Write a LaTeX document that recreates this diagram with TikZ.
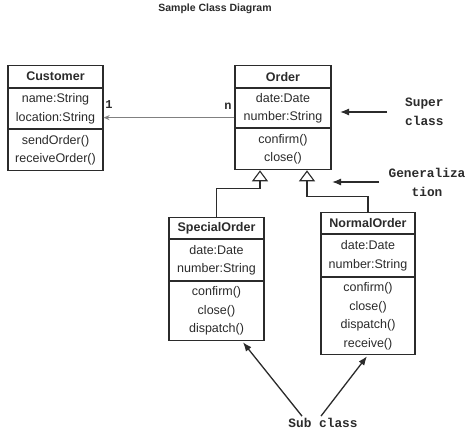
\documentclass[tikz,border=0pt]{standalone}
\usepackage{fontspec}
\setmainfont{Liberation Sans}
\newfontfamily\monofont{Liberation Mono}
\usetikzlibrary{arrows.meta}
\definecolor{ink}{HTML}{2B2B2B}
\definecolor{assocgray}{HTML}{808080}
\tikzset{
  sect/.style={draw=ink, line width=1.1pt, minimum width=95pt, inner sep=0pt,
    align=center, text=ink, anchor=north, font=\fontsize{12.5}{18.5}\selectfont},
  hdr/.style={sect, minimum height=22pt, font=\bfseries\fontsize{12.5}{18.5}\selectfont},
  note/.style={text=ink, align=center, inner sep=0pt, font=\monofont\bfseries\fontsize{12.8}{19}\selectfont},
  mult/.style={text=ink, inner sep=0pt, font=\monofont\bfseries\fontsize{12}{14}\selectfont},
  assoc/.style={draw=assocgray, line width=1.1pt, -{Stealth[length=6pt,width=5pt]}},
  gen/.style={draw=ink, line width=1.1pt, -{Triangle[open,length=11pt,width=16pt,fill=white]}},
  pointer/.style={draw=ink, line width=1.3pt, -{Latex[length=9pt,width=7pt]}}
}
\begin{document}
\begin{tikzpicture}[x=1pt,y=-1pt]
\useasboundingbox[fill=white] (0,0) rectangle (474,438);
% title
\node[text=ink, font=\bfseries\fontsize{10.5}{12}\selectfont] (title) at (215,9) {Sample Class Diagram};
% Customer
\node[hdr] (ch) at (55.5,65) {Customer};
\node[sect, minimum height=40pt] (ca) at (ch.south) {name:String\\location:String};
\node[sect, minimum height=41pt] (cm) at (ca.south) {sendOrder()\\receiveOrder()};
% Order
\node[hdr, minimum width=96pt] (oh) at (283,65) {Order};
\node[sect, minimum width=96pt, minimum height=39pt] (oa) at (oh.south) {date:Date\\number:String};
\node[sect, minimum width=96pt, minimum height=41pt] (om) at (oa.south) {confirm()\\close()};
% SpecialOrder
\node[hdr, minimum height=21pt] (sh) at (216.5,217) {SpecialOrder};
\node[sect, minimum height=41pt] (sa) at (sh.south) {date:Date\\number:String};
\node[sect, minimum height=59pt] (sm) at (sa.south) {confirm()\\close()\\dispatch()};
% NormalOrder
\node[hdr, minimum width=94pt, minimum height=21pt] (nh) at (368,212) {NormalOrder};
\node[sect, minimum width=94pt, minimum height=42pt] (na) at (nh.south) {date:Date\\number:String};
\node[sect, minimum width=94pt, minimum height=77pt] (nm) at (na.south) {confirm()\\close()\\dispatch()\\receive()};
% association
\draw[assoc] ([yshift=-9.5pt]oa.west) -- ([yshift=-9pt]ca.east);
\node[mult] (m1) at (109,105) {1};
\node[mult] (mn) at (228,106) {n};
% generalization
\draw[gen] (sh.north) |- ([xshift=-23pt,yshift=-18pt]om.south) -- ([xshift=-23pt]om.south);
\draw[gen] (nh.north) |- ([xshift=24pt,yshift=-26pt]om.south) -- ([xshift=24pt]om.south);
% notes
\node[note, anchor=west] (sup) at (405,112) {Super\\class};
\coordinate (supTip) at (340,112);
\draw[pointer] ([xshift=-18pt]sup.west) -- (supTip);
\node[note] (genl) at (427,182) {Generaliza\\tion};
\coordinate (genTip) at (332,182);
\coordinate (genTail) at (379,182);
\draw[pointer] (genTail) -- (genTip);
\node[note] (sub) at (323,423) {Sub class};
\draw[pointer] ([xshift=-21pt,yshift=2pt]sub.north) -- ([xshift=26.5pt,yshift=-1pt]sm.south);
\draw[pointer] ([xshift=-2pt,yshift=2pt]sub.north) -- ([xshift=-1pt,yshift=-1pt]nm.south);
\end{tikzpicture}
\end{document}
